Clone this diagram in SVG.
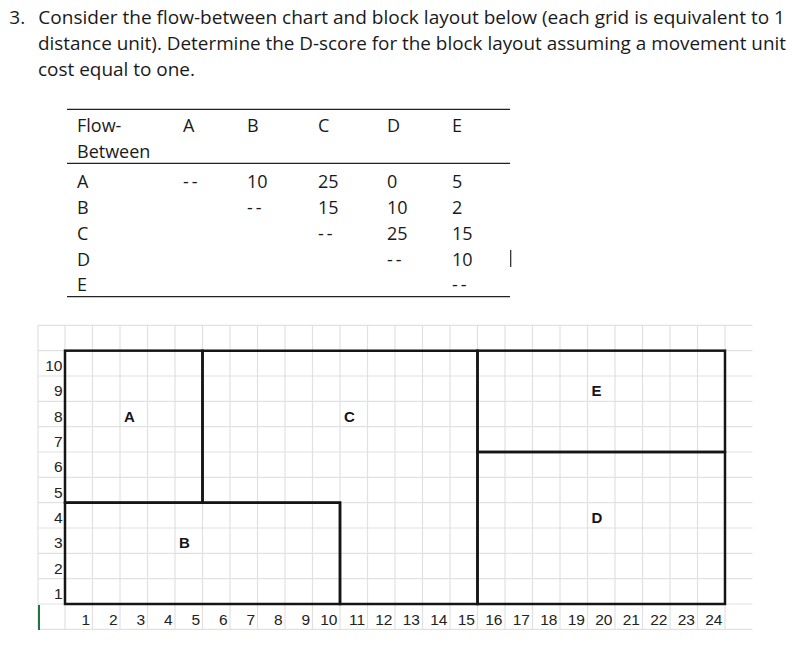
<svg xmlns="http://www.w3.org/2000/svg" width="801" height="657" viewBox="0 0 801 657">
<style>
.hd{font-family:"Open Sans","Noto Sans",sans-serif;font-size:19px;fill:#1a1a1a}
.tb{font-family:"Open Sans","Noto Sans",sans-serif;font-size:18px;fill:#1a1a1a}
.dash{letter-spacing:3px}
.tl{stroke:#222;stroke-width:1.2;fill:none}
.grid{stroke:#e1e1e1;stroke-width:1.2;fill:none}
.ax{font-family:"Liberation Sans",Arial,sans-serif;font-size:15.5px;fill:#222;text-anchor:end}
.blk{fill:none;stroke:#151515;stroke-width:2.5;stroke-linejoin:miter}
.bl{font-family:"Liberation Sans",Arial,sans-serif;font-size:15px;font-weight:bold;fill:#151515}
</style>
<rect width="801" height="657" fill="#ffffff"/>

<g id="question">
<text class="hd" x="9.3" y="24">3.</text>
<text class="hd" x="38.3" y="24" textLength="746.7" lengthAdjust="spacingAndGlyphs">Consider the flow-between chart and block layout below (each grid is equivalent to 1</text>
<text class="hd" x="38" y="50" textLength="748" lengthAdjust="spacingAndGlyphs">distance unit). Determine the D-score for the block layout assuming a movement unit</text>
<text class="hd" x="38" y="76" textLength="157" lengthAdjust="spacingAndGlyphs">cost equal to one.</text>
</g>

<g id="flow-table">
<path class="tl" d="M67 109.3H510M67 163.3H510M67 296.7H510"/>
<line x1="510.7" y1="250" x2="510.7" y2="267" stroke="#222" stroke-width="1.2"/>
<text class="tb" x="77" y="132">Flow-</text>
<text class="tb" x="77" y="157.5">Between</text>
<text class="tb" x="183" y="132">A</text>
<text class="tb" x="247" y="132">B</text>
<text class="tb" x="318" y="132">C</text>
<text class="tb" x="387" y="132">D</text>
<text class="tb" x="452" y="132">E</text>
<text class="tb" x="77" y="187.5">A</text>
<text class="tb dash" x="183" y="187.5">--</text>
<text class="tb" x="247" y="187.5">10</text>
<text class="tb" x="318" y="187.5">25</text>
<text class="tb" x="387" y="187.5">0</text>
<text class="tb" x="452" y="187.5">5</text>
<text class="tb" x="77" y="213.5">B</text>
<text class="tb dash" x="247" y="213.5">--</text>
<text class="tb" x="318" y="213.5">15</text>
<text class="tb" x="387" y="213.5">10</text>
<text class="tb" x="452" y="213.5">2</text>
<text class="tb" x="77" y="239.5">C</text>
<text class="tb dash" x="318" y="239.5">--</text>
<text class="tb" x="387" y="239.5">25</text>
<text class="tb" x="452" y="239.5">15</text>
<text class="tb" x="77" y="265.5">D</text>
<text class="tb dash" x="387" y="265.5">--</text>
<text class="tb" x="452" y="265.5">10</text>
<text class="tb" x="77" y="291">E</text>
<text class="tb dash" x="452" y="291">--</text>
</g>

<g id="grid">
<path class="grid" d="M38 325.3V629.3M65 325.3V629.3M92.5 325.3V629.3M120 325.3V629.3M147.5 325.3V629.3M175 325.3V629.3M202.5 325.3V629.3M230 325.3V629.3M257.5 325.3V629.3M285 325.3V629.3M312.5 325.3V629.3M340 325.3V629.3M367.5 325.3V629.3M395 325.3V629.3M422.5 325.3V629.3M450 325.3V629.3M477.5 325.3V629.3M505 325.3V629.3M532.5 325.3V629.3M560 325.3V629.3M587.5 325.3V629.3M615 325.3V629.3M642.5 325.3V629.3M670 325.3V629.3M697.5 325.3V629.3M725 325.3V629.3
M38 325.33H752.5M38 350.67H752.5M38 376H752.5M38 401.33H752.5M38 426.67H752.5M38 452H752.5M38 477.33H752.5M38 502.67H752.5M38 528H752.5M38 553.33H752.5M38 578.67H752.5M38 604H752.5M38 629.33H752.5"/>
<line x1="39" y1="605" x2="39" y2="630" stroke="#217346" stroke-width="2"/>
<text class="ax" x="62.5" y="371">10</text>
<text class="ax" x="62.5" y="396.3">9</text>
<text class="ax" x="62.5" y="421.7">8</text>
<text class="ax" x="62.5" y="447">7</text>
<text class="ax" x="62.5" y="472.3">6</text>
<text class="ax" x="62.5" y="497.7">5</text>
<text class="ax" x="62.5" y="523">4</text>
<text class="ax" x="62.5" y="548.3">3</text>
<text class="ax" x="62.5" y="573.7">2</text>
<text class="ax" x="62.5" y="599">1</text>
<text class="ax" x="90" y="624.5">1</text>
<text class="ax" x="117.5" y="624.5">2</text>
<text class="ax" x="145" y="624.5">3</text>
<text class="ax" x="172.5" y="624.5">4</text>
<text class="ax" x="200" y="624.5">5</text>
<text class="ax" x="227.5" y="624.5">6</text>
<text class="ax" x="255" y="624.5">7</text>
<text class="ax" x="282.5" y="624.5">8</text>
<text class="ax" x="310" y="624.5">9</text>
<text class="ax" x="337.5" y="624.5">10</text>
<text class="ax" x="365" y="624.5">11</text>
<text class="ax" x="392.5" y="624.5">12</text>
<text class="ax" x="420" y="624.5">13</text>
<text class="ax" x="447.5" y="624.5">14</text>
<text class="ax" x="475" y="624.5">15</text>
<text class="ax" x="502.5" y="624.5">16</text>
<text class="ax" x="530" y="624.5">17</text>
<text class="ax" x="557.5" y="624.5">18</text>
<text class="ax" x="585" y="624.5">19</text>
<text class="ax" x="612.5" y="624.5">20</text>
<text class="ax" x="640" y="624.5">21</text>
<text class="ax" x="667.5" y="624.5">22</text>
<text class="ax" x="695" y="624.5">23</text>
<text class="ax" x="722.5" y="624.5">24</text>
</g>

<g id="block-A">
<rect class="blk" x="65" y="350.67" width="137.5" height="152"/>
<text class="bl" x="124" y="421.7">A</text>
</g>
<g id="block-B">
<rect class="blk" x="65" y="502.67" width="275" height="101.33"/>
<text class="bl" x="179" y="548.3">B</text>
</g>
<g id="block-C">
<path class="blk" d="M202.5 350.67H477.5V604H340V502.67H202.5Z"/>
<text class="bl" x="344" y="421.7">C</text>
</g>
<g id="block-E">
<rect class="blk" x="477.5" y="350.67" width="247.5" height="101.33"/>
<text class="bl" x="591.5" y="396.3">E</text>
</g>
<g id="block-D">
<rect class="blk" x="477.5" y="452" width="247.5" height="152"/>
<text class="bl" x="591.5" y="523">D</text>
</g>
</svg>
